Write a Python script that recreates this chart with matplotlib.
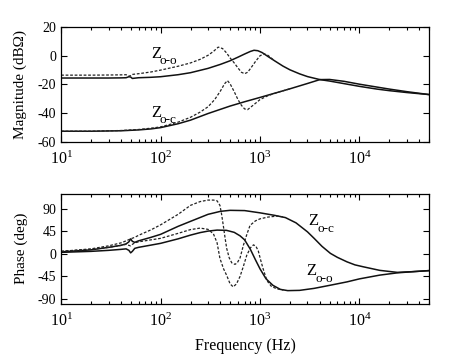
import numpy as np
import matplotlib
matplotlib.use('Agg')
import matplotlib.pyplot as plt

plt.rcParams['font.family'] = ['Liberation Serif', 'DejaVu Serif']
plt.rcParams['mathtext.fontset'] = 'stix'
plt.rcParams['axes.unicode_minus'] = False
plt.rcParams['font.size'] = 9.5

# Magnitude data (dB Ohm)
f_mag_oo_s = [10, 20, 30, 40, 45, 48, 50, 52, 55, 60, 80, 100, 150, 200, 300, 400, 500, 600, 700,
              800, 870, 950, 1050, 1200, 1400, 1700, 2000, 2500, 3000, 4000, 5000, 7000, 10000,
              15000, 20000, 30000, 50000]
mag_oo_s = [-15.5, -15.5, -15.5, -15.4, -15.3, -14.6, -14.8, -15.8, -15.6, -15.3, -15.0, -14.6,
            -13.2, -11.8, -8.8, -6.0, -3.5, -1.0, 1.2, 3.0, 3.8, 3.5, 2.2, -0.5, -3.5, -7.2,
            -9.8, -12.6, -14.5, -16.6, -17.6, -19.4, -21.3, -23.2, -24.3, -25.6, -27.0]

f_mag_oo_d = [10, 20, 30, 40, 45, 48, 50, 52, 55, 60, 80, 100, 150, 200, 250, 300, 340, 380, 420,
              460, 500, 550, 600, 650, 700, 750, 800, 900, 1000, 1100, 1200, 1400]
mag_oo_d = [-13.5, -13.5, -13.4, -13.3, -13.2, -14.2, -13.8, -13.0, -12.8, -12.5, -11.3, -10.0,
            -7.3, -5.0, -2.5, 0.3, 3.0, 6.0, 5.0, 2.0, -1.5, -5.0, -8.5, -11.5, -12.5, -11.5,
            -9.0, -4.0, 0.0, 1.3, 0.3, -3.5]

f_mag_oc_s = [10, 20, 40, 60, 80, 100, 150, 200, 300, 500, 700, 1000, 1500, 2000, 3000, 4000,
              5000, 7000, 10000, 15000, 20000, 30000, 50000]
mag_oc_s = [-52.5, -52.5, -52.2, -51.6, -50.9, -50.0, -47.3, -44.8, -40.2, -35.0, -32.0, -29.0,
            -25.5, -23.0, -19.3, -16.6, -16.5, -17.8, -19.8, -21.8, -23.2, -25.0, -27.0]

f_mag_oc_d = [10, 20, 40, 60, 80, 100, 150, 200, 250, 300, 350, 400, 440, 470, 500, 550, 600,
              650, 700, 750, 850, 1000, 1200, 1500, 2000]
mag_oc_d = [-52.5, -52.5, -52.0, -51.3, -50.4, -49.5, -46.2, -42.8, -39.2, -35.5, -30.5, -24.5,
            -19.5, -17.3, -19.5, -25.0, -30.5, -34.5, -37.0, -37.5, -34.5, -30.5, -27.8, -25.5,
            -23.0]

# Phase data (deg)
f_ph_oo_s = [10, 20, 30, 40, 45, 48, 50, 52, 55, 60, 80, 100, 150, 200, 250, 300, 370, 460, 550,
             630, 700, 800, 900, 1000, 1150, 1350, 1600, 1900, 2500, 3500, 5000, 7500, 10000,
             16000, 24000, 35000, 50000]
ph_oo_s = [3, 5, 7, 9, 10, 7, 2, 5, 11, 13, 17.5, 21, 30, 37.5, 42.5, 45.5, 47.5, 47, 43, 36, 28,
           9, -12, -30, -50, -63, -71, -73.5, -73, -69, -63, -56, -50, -42.5, -38, -35.5, -33.5]

f_ph_oc_s = [10, 20, 30, 40, 45, 48, 50, 52, 55, 60, 80, 100, 150, 200, 300, 400, 500, 700, 1000,
             1400, 1800, 2300, 3000, 3500, 4200, 5100, 6000, 7500, 9000, 11000, 16000, 24000,
             35000, 50000]
ph_oc_s = [4, 8, 13, 17, 20, 24, 30, 25, 23, 26, 33, 39, 55, 65, 79, 85, 87, 86.5, 82, 77, 72.5,
           62, 44, 31, 15, 1, -7, -16, -22, -26, -33, -37, -35.5, -33.5]

f_ph_oc_d = [10, 20, 30, 40, 45, 50, 55, 60, 80, 100, 150, 200, 250, 300, 340, 370, 395, 410,
             427, 445, 462, 490, 520, 560, 590, 630, 680, 740, 794, 900, 1000, 1200, 1480, 1700]
ph_oc_d = [5, 10, 16, 22, 26, 30, 33, 37, 48, 58, 79, 97, 104.5, 107.5, 107.5, 106, 97, 80, 57,
           32, 11, -8, -18, -21, -18, -8, 17, 40, 57, 66, 70, 73.5, 75.5, 74]

f_ph_oo_d = [10, 20, 30, 40, 45, 48, 50, 52, 55, 60, 80, 100, 150, 200, 250, 300, 340, 370, 395,
             430, 462, 500, 537, 580, 630, 680, 735, 800, 860, 910, 960, 1020, 1075, 1140, 1200,
             1300, 1480, 1720]
ph_oo_d = [5, 9, 13, 17, 19, 17, 16, 19, 22, 24, 28, 31, 41, 48.5, 51.5, 49, 40, 22, -9, -30, -43,
           -60, -66, -60, -45, -25, -3, 12, 18, 15, 6, -14, -30, -46, -56, -65, -70, -72.5]

fig = plt.figure(figsize=(4.74, 3.55), dpi=100)
ax1 = fig.add_axes([0.129, 0.600, 0.776, 0.324])
ax2 = fig.add_axes([0.129, 0.144, 0.776, 0.310])

solid = dict(color='#111111', lw=1.1, ls='-')
dash = dict(color='#222222', lw=0.9, ls=(0, (2.2, 1.4)))

ax1.plot(f_mag_oo_s, mag_oo_s, **solid)
ax1.plot(f_mag_oc_s, mag_oc_s, **solid)
ax1.plot(f_mag_oo_d, mag_oo_d, **dash)
ax1.plot(f_mag_oc_d, mag_oc_d, **dash)

ax2.plot(f_ph_oo_s, ph_oo_s, **solid)
ax2.plot(f_ph_oc_s, ph_oc_s, **solid)
ax2.plot(f_ph_oo_d, ph_oo_d, **dash)
ax2.plot(f_ph_oc_d, ph_oc_d, **dash)

for ax in (ax1, ax2):
    ax.set_xscale('log')
    ax.set_xlim(10, 5e4)
    ax.tick_params(which='both', direction='in', top=True, right=True, width=0.8)
    ax.tick_params(which='major', length=4)
    ax.tick_params(which='minor', length=2)
    ax.tick_params(axis='x', which='major', labelsize=11.5, pad=6)
    ax.tick_params(axis='y', which='major', labelsize=10)
    for sp in ax.spines.values():
        sp.set_linewidth(0.9)

ax1.set_ylim(-60, 20)
ax1.set_yticks([-60, -40, -20, 0, 20])
ax2.set_ylim(-100, 120)
ax2.set_yticks([-90, -45, 0, 45, 90])

# curve labels
ax1.text(81, -1.4, 'Z', fontsize=12)
ax1.text(98, -5.8, 'o-o', fontsize=9.5)
ax1.text(81, -42.4, 'Z', fontsize=12)
ax1.text(98, -47.0, 'o-c', fontsize=9.5)
ax2.text(3080, 58, 'Z', fontsize=12)
ax2.text(3800, 44, 'o-c', fontsize=9.5)
ax2.text(2920, -43, 'Z', fontsize=12)
ax2.text(3590, -57, 'o-o', fontsize=9.5)

fig.text(20 / 474, 1 - 84.5 / 355, 'Magnitude (dB\u03a9)', rotation=90, ha='center',
         va='center', fontsize=11)
fig.text(21 / 474, 1 - 248 / 355, 'Phase (deg)', rotation=90, ha='center', va='center',
         fontsize=11)
fig.text(245 / 474, 1 - 346 / 355, 'Frequency (Hz)', ha='center', va='center', fontsize=11.5)

fig.savefig('out.png', dpi=100)
